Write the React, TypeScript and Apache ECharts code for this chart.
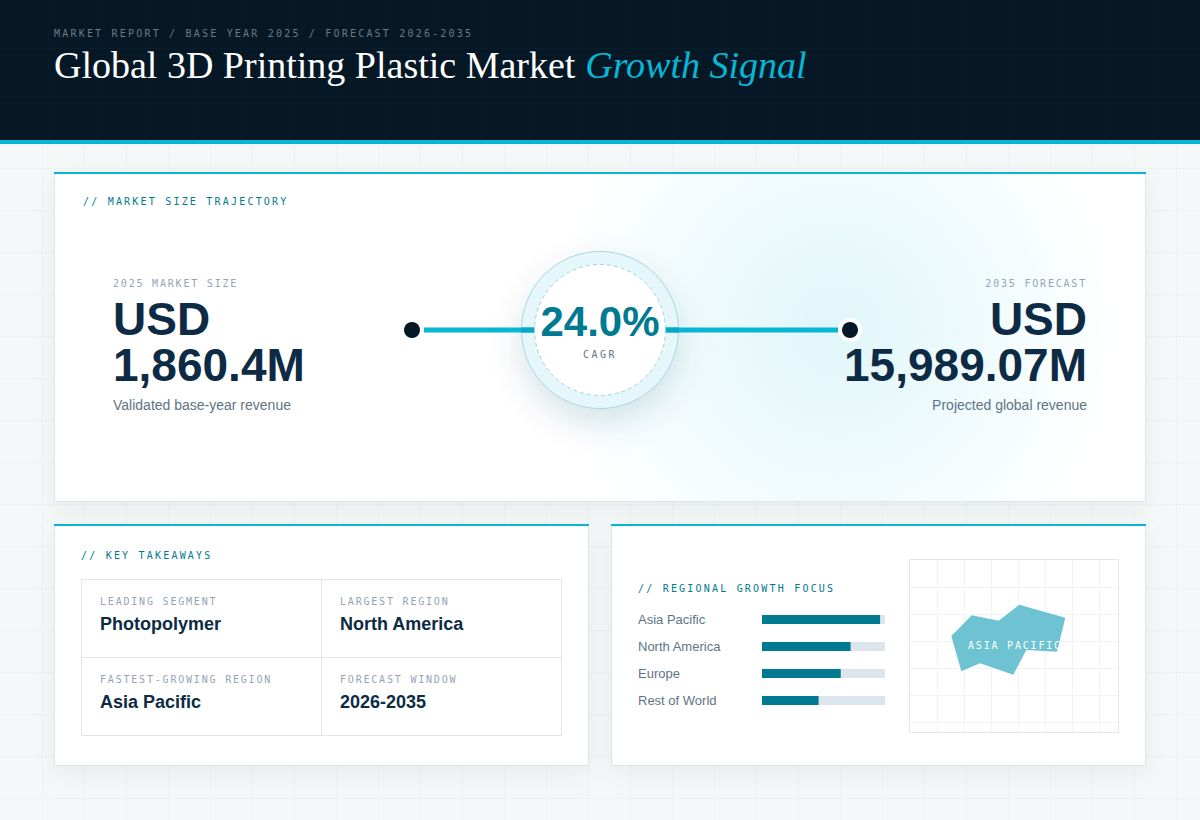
import React, { useEffect, useRef } from "react";
import * as echarts from "echarts";

const eyebrow = "MARKET REPORT / BASE YEAR 2025 / FORECAST 2026-2035";
const titleMain = "Global 3D Printing Plastic Market";
const titleAccent = "Growth Signal";
const startLabel = "2025 MARKET SIZE";
const startValue = ["USD", "1,860.4M"];
const startNote = "Validated base-year revenue";
const endLabel = "2035 FORECAST";
const endValue = ["USD", "15,989.07M"];
const endNote = "Projected global revenue";
const cagrValue = "24.0%";
const cagrLabel = "CAGR";
const takeawayLabels = ["LEADING SEGMENT", "LARGEST REGION", "FASTEST-GROWING REGION", "FORECAST WINDOW"];
const takeawayValues = ["Photopolymer", "North America", "Asia Pacific", "2026-2035"];
const regions = ["Asia Pacific", "North America", "Europe", "Rest of World"];
const regionGrowth = [96, 72, 64, 46];
const mapLabel = "ASIA PACIFIC";

const SERIF = "'Liberation Serif'";
const SANS = "'Liberation Sans'";
const MONO = "'DejaVu Sans Mono'";
const CYAN = "#06b6d4";
const TEAL = "#007a90";
const NAVY = "#0d2b45";
const INK = "#061826";
const SLATE = "#607485";
const MUTED = "#94a3b8";
const EDGE = "#dfe5ea";

const spacing: Record<string, number> = {
  [eyebrow]: 2.2,
  "// MARKET SIZE TRAJECTORY": 2.2,
  "// KEY TAKEAWAYS": 2.2,
  "// REGIONAL GROWTH FOCUS": 2.2,
  [startLabel]: 1.8,
  [endLabel]: 1.8,
  [cagrLabel]: 2.5,
  [mapLabel]: 1.8,
  ...Object.fromEntries(takeawayLabels.map((l) => [l, 1.8])),
};

function text(value: string, x: number, y: number, size: number, fill: string, family: string, opts: any = {}) {
  const { weight = "normal", italic = false, align = "left" } = opts;
  return {
    type: "text",
    silent: true,
    style: {
      text: value,
      x,
      y,
      fill,
      align,
      verticalAlign: "middle",
      font: `${italic ? "italic " : ""}${weight} ${size}px ${family}`,
    },
  };
}

function rect(x: number, y: number, width: number, height: number, style: any) {
  return { type: "rect", silent: true, shape: { x, y, width, height }, style };
}

function grid(x0: number, y0: number, w: number, h: number, stepX: number, stepY: number, fill: string) {
  const out: any[] = [];
  for (let x = x0 + stepX; x < x0 + w; x += stepX) out.push(rect(x, y0, 1, h, { fill }));
  for (let y = y0 + stepY; y < y0 + h; y += stepY) out.push(rect(x0, y, w, 1, { fill }));
  return out;
}

function card(x: number, y: number, w: number, h: number) {
  return [
    rect(x + 0.5, y + 0.5, w - 1, h - 1, {
      fill: "#ffffff",
      stroke: EDGE,
      lineWidth: 1,
      shadowBlur: 24,
      shadowOffsetY: 8,
      shadowColor: "rgba(6,23,36,0.05)",
    }),
  ];
}

function buildGraphic() {
  const g: any[] = [];
  // page + header
  g.push(rect(0, 0, 1200, 820, { fill: "#f5f8f9" }));
  g.push(...grid(0, 0, 1200, 820, 42, 42, "#edf1f3"));
  g.push(rect(0, 0, 1200, 140, { fill: INK }));
  g.push(...grid(0, 0, 1200, 140, 48, 48, "#0a1c29"));
  g.push(rect(0, 140, 1200, 4, { fill: CYAN }));
  g.push(text(eyebrow, 54, 33, 10, "#6d7a84", MONO));
  g.push(text(titleMain, 54, 65, 38, "#ffffff", SERIF));
  g.push(text(titleAccent, 585.3, 65, 38, CYAN, SERIF, { italic: true }));

  // trajectory card
  g.push(...card(54, 172, 1092, 330));
  g.push(
    rect(55, 174, 1090, 327, {
      fill: new echarts.graphic.RadialGradient(
        835,
        330,
        285,
        [
          { offset: 0, color: "rgba(6,182,212,0.125)" },
          { offset: 1, color: "rgba(6,182,212,0)" },
        ],
        true
      ),
    })
  );
  g.push(rect(54, 172, 1092, 2, { fill: CYAN }));
  g.push(text("// MARKET SIZE TRAJECTORY", 83, 201, 10, TEAL, MONO));
  g.push(text(startLabel, 113, 283, 10, MUTED, MONO));
  g.push(text(startValue[0], 113, 319, 46, NAVY, SANS, { weight: "bold" }));
  g.push(text(startValue[1], 113, 365, 46, NAVY, SANS, { weight: "bold" }));
  g.push(text(startNote, 113, 405, 14, SLATE, SANS));
  g.push(text(endLabel, 1087, 283, 10, MUTED, MONO, { align: "right" }));
  g.push(text(endValue[0], 1087, 319, 46, NAVY, SANS, { weight: "bold", align: "right" }));
  g.push(text(endValue[1], 1087, 365, 46, NAVY, SANS, { weight: "bold", align: "right" }));
  g.push(text(endNote, 1087, 405, 14, SLATE, SANS, { align: "right" }));

  // connector
  g.push({
    type: "circle",
    silent: true,
    shape: { cx: 600, cy: 330, r: 78.5 },
    style: {
      fill: "#e6f7fb",
      stroke: "#a8d4de",
      lineWidth: 1,
      shadowBlur: 32,
      shadowOffsetY: 14,
      shadowColor: "rgba(0,90,110,0.16)",
    },
  });
  g.push(rect(424, 327.5, 414, 5, { fill: CYAN }));
  g.push(rect(521.5, 327.5, 14, 5, { fill: "#05a9c5" }));
  g.push(rect(664.5, 327.5, 14, 5, { fill: "#05a9c5" }));
  g.push({
    type: "circle",
    silent: true,
    shape: { cx: 600, cy: 330, r: 65.5 },
    style: { fill: "#ffffff", stroke: "#9fd2dc", lineWidth: 1, lineDash: [4, 3] },
  });
  g.push({ type: "circle", silent: true, shape: { cx: 412, cy: 330, r: 8 }, style: { fill: INK } });
  g.push({ type: "circle", silent: true, shape: { cx: 850, cy: 330, r: 12 }, style: { fill: "#ffffff" } });
  g.push({ type: "circle", silent: true, shape: { cx: 850, cy: 330, r: 8 }, style: { fill: INK } });
  g.push(text(cagrValue, 600, 321, 42, TEAL, SANS, { weight: "bold", align: "center" }));
  g.push(text(cagrLabel, 600, 354, 10, SLATE, MONO, { align: "center" }));

  // takeaways card
  g.push(...card(54, 524, 535, 242));
  g.push(rect(54, 524, 535, 2, { fill: CYAN }));
  g.push(text("// KEY TAKEAWAYS", 81, 555, 10, TEAL, MONO));
  g.push(rect(81.5, 579.5, 480, 156, { fill: "#ffffff", stroke: EDGE, lineWidth: 1 }));
  g.push(rect(321, 580, 1, 155, { fill: EDGE }));
  g.push(rect(82, 657, 479, 1, { fill: EDGE }));
  takeawayLabels.forEach((label, i) => {
    const x = i % 2 === 0 ? 100 : 340;
    const y = i < 2 ? 601 : 679;
    g.push(text(label, x, y, 10, MUTED, MONO));
    g.push(text(takeawayValues[i], x, y + 23, 18, NAVY, SANS, { weight: "bold" }));
  });

  // regional card
  g.push(...card(611, 524, 535, 242));
  g.push(rect(611, 524, 535, 2, { fill: CYAN }));
  g.push(text("// REGIONAL GROWTH FOCUS", 638, 588, 10, TEAL, MONO));

  // map
  g.push(...grid(910, 560, 208, 172, 27, 27, "#f1f4f6"));
  g.push(rect(909.5, 559.5, 209, 173, { fill: "none", stroke: EDGE, lineWidth: 1 }));
  g.push({
    type: "polygon",
    silent: true,
    shape: {
      points: [
        [971.7, 615.3],
        [998.7, 620.7],
        [1019.3, 604.7],
        [1065.3, 617.7],
        [1057, 651.7],
        [1026.3, 650],
        [1013.3, 674.7],
        [980, 663.3],
        [961.3, 671.3],
        [951.3, 636],
      ],
    },
    style: { fill: "#6ec3d2" },
  });
  g.push(text(mapLabel, 968, 645, 10, "#ffffff", MONO));
  return g;
}

function applySpacing(root: HTMLElement) {
  root.querySelectorAll("text").forEach((node) => {
    const value = spacing[node.textContent || ""];
    if (value) node.setAttribute("letter-spacing", String(value));
  });
}

export default function App() {
  const ref = useRef<HTMLDivElement>(null);
  useEffect(() => {
    document.body.style.margin = "0";
    const el = ref.current!;
    const chart = echarts.init(el, undefined, { renderer: "svg", width: 1200, height: 820 });
    chart.setOption({
      animation: false,
      graphic: { elements: buildGraphic() },
      grid: { left: 762, width: 123, top: 606, height: 108 },
      xAxis: { type: "value", min: 0, max: 100, show: false },
      yAxis: {
        type: "category",
        inverse: true,
        data: regions,
        axisLine: { show: false },
        axisTick: { show: false },
        splitLine: { show: false },
        axisLabel: {
          align: "left",
          margin: 124,
          fontSize: 13,
          fontFamily: "Liberation Sans",
          color: SLATE,
        },
      },
      series: [
        {
          type: "bar",
          data: regionGrowth,
          barWidth: 9,
          silent: true,
          itemStyle: { color: TEAL },
          showBackground: true,
          backgroundStyle: { color: "#dce5ec" },
        },
      ],
    });
    applySpacing(el);
    chart.on("finished", () => applySpacing(el));
    return () => chart.dispose();
  }, []);
  return <div ref={ref} style={{ width: 1200, height: 820, overflow: "hidden" }} />;
}
